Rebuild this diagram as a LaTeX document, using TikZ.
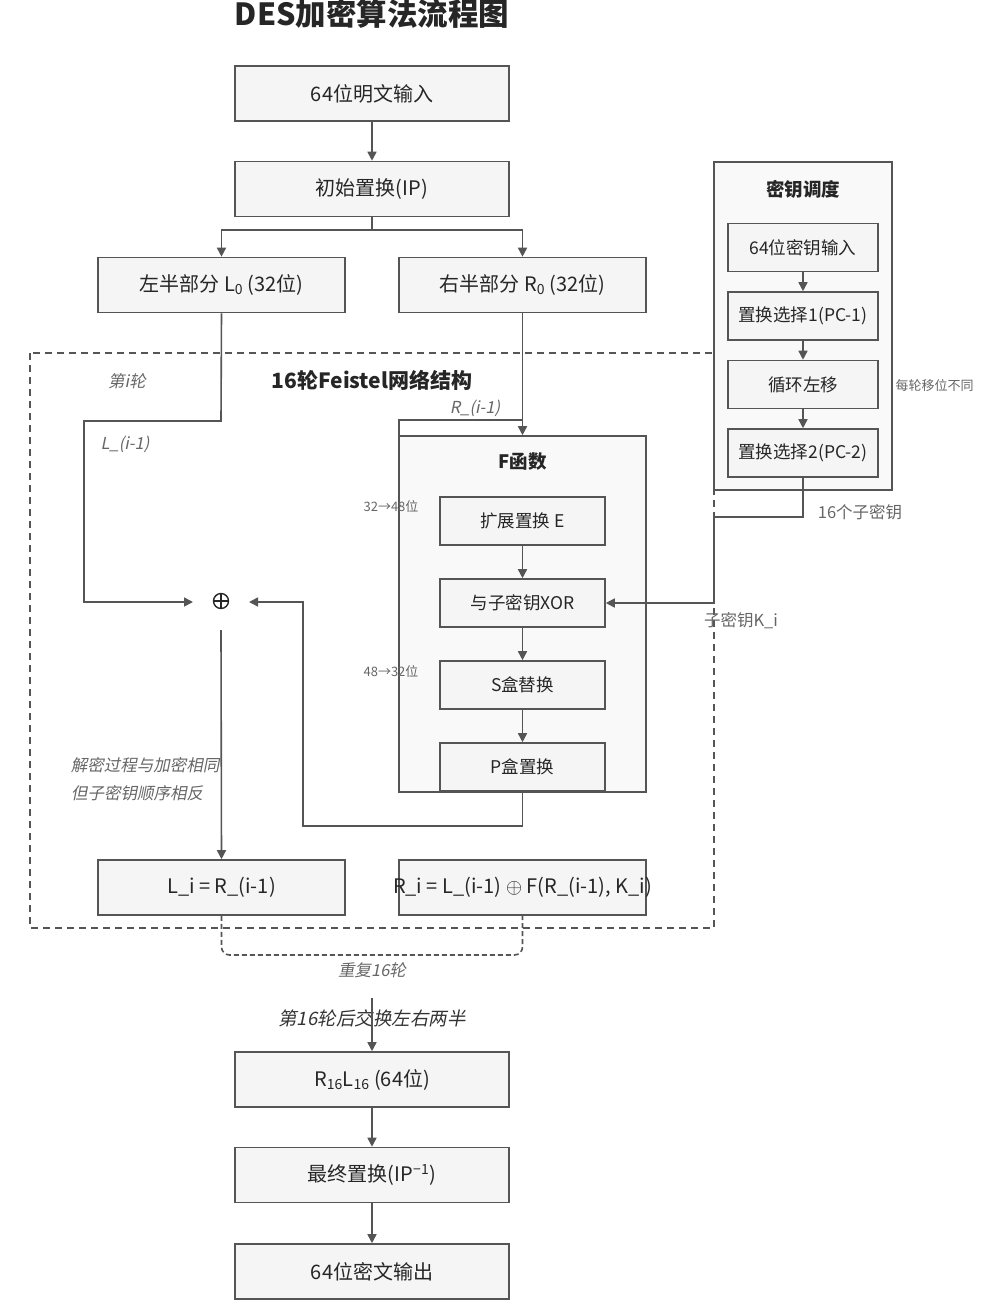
\documentclass[tikz,border=0pt]{standalone}
\usepackage{fontspec}
\setmainfont{Noto Sans CJK SC}[AutoFakeSlant=0.2]
\usetikzlibrary{arrows.meta}
\definecolor{ln}{HTML}{555555}
\definecolor{bx}{HTML}{F5F5F5}
\definecolor{cf}{HTML}{F9F9F9}
\definecolor{gt}{HTML}{666666}
\begin{document}
\begin{tikzpicture}[x=1pt,y=-1pt,
 box/.style={draw=ln,line width=1.6pt,fill=bx,inner sep=0,font=\fontsize{20}{24}\selectfont,text=black!85},
 big/.style={box,minimum width=274,minimum height=55},
 half/.style={box,minimum width=247,minimum height=55},
 sub/.style={box,minimum width=165,minimum height=48,font=\fontsize{17.5}{20}\selectfont},
 ksub/.style={box,minimum width=150,minimum height=48,font=\fontsize{17.5}{20}\selectfont},
 cont/.style={draw=ln,line width=1.6pt,fill=cf,inner sep=0},
 con/.style={draw=ln,line width=1.6pt},
 arr/.style={con,-{Triangle[length=9pt,width=9pt]}},
 lab/.style={font=\fontsize{16.5}{18}\selectfont\itshape,text=gt},
 small/.style={font=\fontsize{13}{15}\selectfont,text=gt}]
\useasboundingbox (0,0) rectangle (984,1310);
\node[font=\fontsize{30.5}{34}\selectfont\bfseries,text=black!85] (title) at (372,14) {DES加密算法流程图};
\node[big] (in) at (372,93.5) {64位明文输入};
\node[big] (ip) at (372,189) {初始置换(IP)};
\node[half] (L0) at (221.5,285) {左半部分 L\textsubscript{0} (32位)};
\node[half] (R0) at (522.5,285) {右半部分 R\textsubscript{0} (32位)};
\draw[arr] (in) -- (ip);
\coordinate (sp) at (372,230);
\draw[con] (ip.south) -- (sp);
\draw[arr] (sp) -| (L0.north);
\draw[arr] (sp) -| (R0.north);
% dashed frame
\draw[ln,line width=1.6pt,dash pattern=on 7pt off 5pt] (30,353) rectangle (714,928);
\node[font=\fontsize{21}{24}\selectfont\bfseries,text=black!85] (ft) at (372,380) {16轮Feistel网络结构};
% key schedule
\node[cont,minimum width=178,minimum height=328] (ks) at (803,326) {};
\node[font=\fontsize{18.5}{22}\selectfont\bfseries,text=black!85] (kst) at (803,189) {密钥调度};
\node[ksub] (k1) at (803,247.5) {64位密钥输入};
\node[ksub] (k2) at (803,316) {置换选择1(PC-1)};
\node[ksub] (k3) at (803,384.5) {循环左移};
\node[ksub] (k4) at (803,453) {置换选择2(PC-2)};
\draw[arr] (k1) -- (k2); \draw[arr] (k2) -- (k3); \draw[arr] (k3) -- (k4);
\node[small,anchor=west] (shift) at (892,386) {每轮移位不同};
% F function
\node[cont,minimum width=247,minimum height=356] (F) at (522.5,614) {};
\node[font=\fontsize{18.5}{22}\selectfont\bfseries,text=black!85] (Ft) at (522.5,462) {F函数};
\node[sub] (E) at (522.5,521) {扩展置换 E};
\node[sub] (X) at (522.5,603) {与子密钥XOR};
\node[sub] (S) at (522.5,685) {S盒替换};
\node[sub] (P) at (522.5,767) {P盒置换};
\draw[arr] (E) -- (X); \draw[arr] (X) -- (S); \draw[arr] (S) -- (P);
\node[small] (l1) at (391,506) {32→48位};
\node[small] (l2) at (391,671) {48→32位};
% subkey path
\coordinate (kb) at (803,517);
\coordinate (kc) at (714,517);
\coordinate (kd) at (714,603);
\draw[arr] (k4.south) -- (kb) -- (kc) -- (kd) -- (X.east);
\node[font=\fontsize{16.5}{18}\selectfont,text=gt] (l3) at (860,512) {16个子密钥};
\node[font=\fontsize{16.5}{18}\selectfont,text=gt] (l4) at (741,621) {子密钥K\_i};
% R path
\draw[arr] (R0.south) -- (F.north);
\coordinate (ra) at (522.5,420);
\coordinate (rb) at (399,420);
\draw[con] (ra) -- (rb) -- (399,436);
\node[lab] (lr) at (475,408) {R\_(i-1)};
% L path
\node[draw=black!85,circle,line width=1.4pt,minimum size=15pt,inner sep=0,
  path picture={\draw[black!85,line width=1.4pt] (path picture bounding box.north) -- (path picture bounding box.south) (path picture bounding box.west) -- (path picture bounding box.east);}] (xor) at (221,601) {};
\coordinate (la) at (221,421);
\coordinate (lb) at (84,421);
\coordinate (lc) at (84,602);
\draw[arr] (L0.south) -- (la) -- (lb) -- (lc) -- (193,602);
\node[lab] (ll) at (125,444) {L\_(i-1)};
\node[lab] (rd) at (127,381) {第i轮};
% F out
\coordinate (pa) at (522.5,826);
\coordinate (pb) at (303,826);
\coordinate (pc) at (303,602);
\draw[arr] (P.south) -- (pa) -- (pb) -- (pc) -- (249,602);
% results
\node[half] (Li) at (221.5,887.5) {L\_i = R\_(i-1)};
\node[half] (Ri) at (522.5,887.5) {};
\node[font=\fontsize{20}{24}\selectfont,text=black!85] (Rit) at (522.5,887.5) {R\_i = L\_(i-1) $\oplus$ F(R\_(i-1), K\_i)};
\draw[arr] (221,630) -- (Li.north);
\node[lab] (n1) at (145,765) {解密过程与加密相同};
\node[lab] (n2) at (137,793) {但子密钥顺序相反};
\draw[ln,line width=1.6pt,dash pattern=on 5pt off 3pt,rounded corners=8pt] (Li.south) -- (221.5,955) -- (522.5,955) -- (Ri.south);
\node[lab] (rep) at (372,970) {重复16轮};
% final
\node[font=\fontsize{18.5}{20}\selectfont\itshape,text=black!80] (sw) at (372,1018) {第16轮后交换左右两半};
\node[big] (rl) at (372,1079.5) {R\textsubscript{16}L\textsubscript{16} (64位)};
\node[big] (fp) at (372,1175) {最终置换(IP\textsuperscript{−1})};
\node[big] (out) at (372,1271.5) {64位密文输出};
\coordinate (sa) at (372,998);
\draw[arr] (sa) -- (rl.north);
\draw[arr] (rl) -- (fp); \draw[arr] (fp) -- (out);
\end{tikzpicture}
\end{document}
